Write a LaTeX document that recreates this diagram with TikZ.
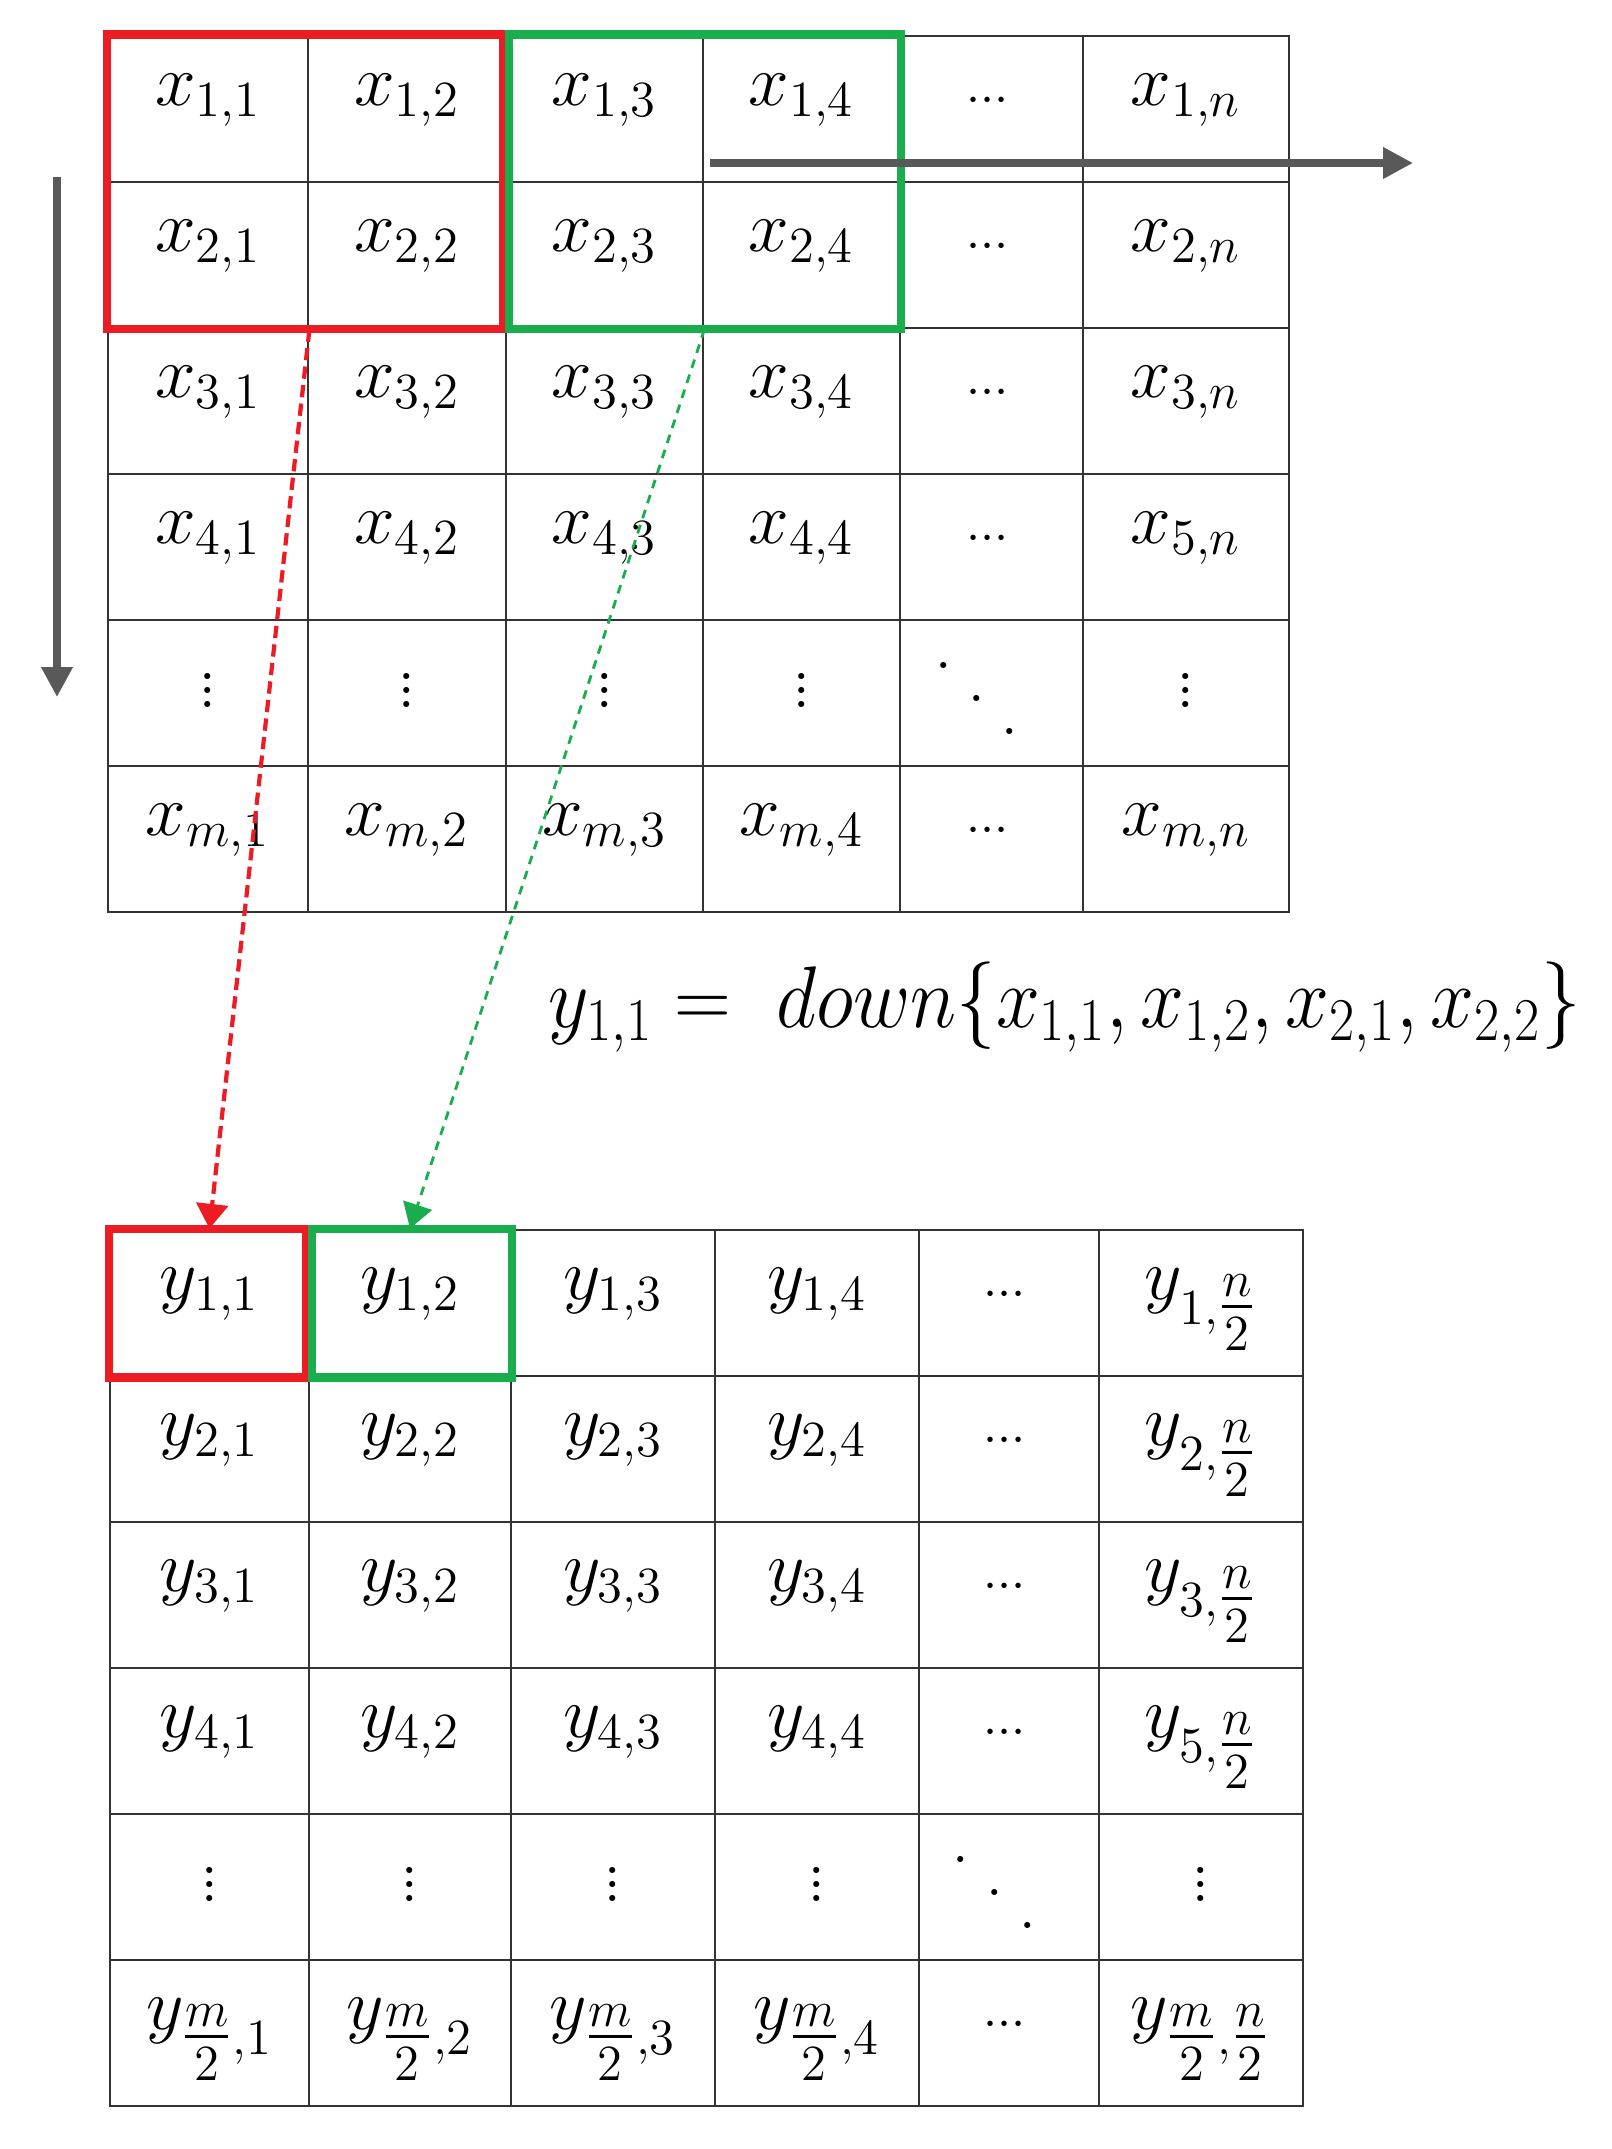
\documentclass[tikz,border=0pt]{standalone}
\usepackage{amsmath}
\usepackage{graphicx}
\usetikzlibrary{arrows.meta}
\definecolor{boxred}{RGB}{237,28,36}
\definecolor{boxgreen}{RGB}{26,173,77}
\definecolor{scangray}{RGB}{89,89,89}
\newcommand{\halfof}[1]{\genfrac{}{}{}{1}{#1}{2}}
\newcommand{\vdotcol}{\lower5.2pt\hbox{$\vdots$}}
\newcommand{\ddotdiag}{\hbox{\raise5.9pt\hbox{.}\kern4.2pt\lower3.5pt\hbox{.}\kern4.2pt\lower12.9pt\hbox{.}\kern8.4pt}}
\newcommand{\rowdots}{\lower2pt\hbox{$\scriptstyle\cdots$}}
\begin{document}
\begin{tikzpicture}[x=0.01cm, y=-0.01cm,
cell/.style={draw=black!80, line width=0.8pt, minimum height=1.46cm, inner sep=0pt,
  text height=8pt, text depth=10pt, font=\fontsize{21}{25}\selectfont},
redbox/.style={draw=boxred, line width=2.3pt},
greenbox/.style={draw=boxgreen, line width=2.3pt},
scan/.style={draw=scangray, line width=2pt, -{Triangle[length=8.5pt,width=8.5pt]}},
redlink/.style={draw=boxred, line width=1.2pt, dash pattern=on 3.5pt off 1.8pt, -{Triangle[length=7pt,width=9pt]}},
greenlink/.style={draw=boxgreen, line width=0.8pt, dash pattern=on 2.5pt off 2pt, -{Triangle[length=7pt,width=8.5pt]}}]
\useasboundingbox (0,0) rectangle (1611,2149);
% input map
\foreach \c/\cx/\w in {1/208/200,2/407/198,3/604.5/197,4/801.5/197}{
  \foreach \r/\i in {1/1,2/2,3/3,4/4,6/m}
    \node[cell, minimum width=\w*0.01cm] (x-\r-\c) at (\cx,{109+146*(\r-1)}) {$x_{\i,\c}$};
  \node[cell, minimum width=\w*0.01cm] (x-5-\c) at (\cx,693) {$\vdotcol$};
}
\foreach \r/\i in {1/1,2/2,3/3,4/5,6/m}{
  \node[cell, minimum width=1.83cm] (x-\r-5) at (991.5,{109+146*(\r-1)}) {$\rowdots$};
  \node[cell, minimum width=2.06cm] (x-\r-6) at (1186,{109+146*(\r-1)}) {$x_{\i,n}$};
}
\node[cell, minimum width=1.83cm] (x-5-5) at (991.5,693) {$\ddotdiag$};
\node[cell, minimum width=2.06cm] (x-5-6) at (1186,693) {$\vdotcol$};
% output map
\foreach \c/\cx/\w in {1/209.5/199,2/410/202,3/613/204,4/817/204}{
  \foreach \r/\i in {1/1,2/2,3/3,4/4}
    \node[cell, minimum width=\w*0.01cm] (y-\r-\c) at (\cx,{1303+146*(\r-1)}) {$y_{\i,\c}$};
  \node[cell, minimum width=\w*0.01cm] (y-5-\c) at (\cx,1887) {$\vdotcol$};
  \node[cell, minimum width=\w*0.01cm] (y-6-\c) at (\cx,2033) {$y_{\halfof{m},\c}$};
}
\foreach \r/\i in {1/1,2/2,3/3,4/5}{
  \node[cell, minimum width=1.8cm] (y-\r-5) at (1009,{1303+146*(\r-1)}) {$\rowdots$};
  \node[cell, minimum width=2.04cm] (y-\r-6) at (1201,{1303+146*(\r-1)}) {$y_{\i,\halfof{n}}$};
}
\node[cell, minimum width=1.8cm] (y-5-5) at (1009,1887) {$\ddotdiag$};
\node[cell, minimum width=2.04cm] (y-5-6) at (1201,1887) {$\vdotcol$};
\node[cell, minimum width=1.8cm] (y-6-5) at (1009,2033) {$\rowdots$};
\node[cell, minimum width=2.04cm] (y-6-6) at (1201,2033) {$y_{\halfof{m},\halfof{n}}$};
% windows
\draw[redbox] (x-1-1.north west) rectangle ([xshift=-0.4mm]x-2-2.south east);
\draw[greenbox] ([xshift=0.4mm]x-1-3.north west) rectangle (x-2-4.south east);
\draw[redbox] (y-1-1.north west) rectangle ([xshift=-0.4mm]y-1-1.south east);
\draw[greenbox] ([xshift=0.4mm]y-1-2.north west) rectangle (y-1-2.south east);
% scan directions
\coordinate (rowscan-start) at (710,163);
\coordinate (rowscan-end) at (1413,163);
\coordinate (colscan-start) at (57,177);
\coordinate (colscan-end) at (57,697);
\draw[scan] (rowscan-start) -- (rowscan-end);
\draw[scan] (colscan-start) -- (colscan-end);
\draw[redlink] (x-2-1.south east) -- (y-1-1.north);
\draw[greenlink] (x-2-3.south east) -- (y-1-2.north);
\node[anchor=base west, inner sep=0pt, font=\fontsize{24}{28}\selectfont] (eq) at (548,1027)
  {\scalebox{0.9}[1]{$y_{1,1} =\ down{\left\{x_{1,1}{,}\,x_{1,2}{,}\,x_{2,1}{,}\,x_{2,2}\right\}}$}};
\end{tikzpicture}
\end{document}
